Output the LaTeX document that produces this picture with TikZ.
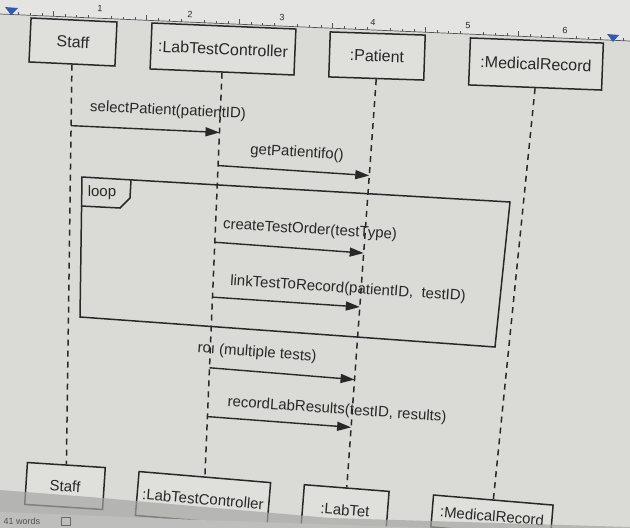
\documentclass[tikz,border=0pt]{standalone}
\usepackage{fontspec}
\setmainfont{Liberation Sans}
\usetikzlibrary{arrows.meta,calc}
\definecolor{bg}{RGB}{218,218,215}
\definecolor{bgtop}{RGB}{228,228,226}
\definecolor{boxfill}{RGB}{223,223,220}
\definecolor{ink}{RGB}{40,40,40}
\definecolor{band}{RGB}{165,165,163}
\definecolor{strip}{RGB}{190,190,188}
\definecolor{rulerblue}{RGB}{50,90,175}
\begin{document}
\begin{tikzpicture}[x=1pt,y=-1pt,
  objbox/.style={draw=ink, line width=1.5pt, fill=boxfill, text=ink, inner sep=0pt},
  topfont/.style={font=\fontsize{16}{18}\selectfont},
  botfont/.style={font=\fontsize{15}{17}\selectfont},
  lifeline/.style={draw=ink, line width=1.5pt, dash pattern=on 6pt off 5pt},
  msg/.style={draw=ink, line width=1.4pt, -{Triangle[length=14pt,width=9pt]}},
  msglabel/.style={font=\fontsize{15}{17}\selectfont, text=ink, inner sep=0pt},
  frame/.style={draw=ink, line width=1.5pt},
  rulernum/.style={font=\fontsize{9}{10}\selectfont, text=ink, inner sep=0pt}]
\useasboundingbox (0,0) rectangle (630,528);
\fill[bg] (0,0) rectangle (630,528);
\fill[bgtop] (0,0) -- (630,0) -- (630,41) -- (0,14) -- cycle;

% ruler
\draw[ink!80, line width=0.7pt] (0,14) -- (630,41);
\foreach \k in {1,...,53} {
  \pgfmathsetmacro\xx{7+\k*11.625}
  \pgfmathsetmacro\yy{14+\xx*0.04286}
  \pgfmathsetmacro\len{ifthenelse(mod(\k,8)==0,0,ifthenelse(mod(\k,4)==0,5,2.5))}
  \draw[ink!80, line width=0.6pt] (\xx,\yy) -- (\xx,\yy-\len);
}
\node[rulernum, rotate=-2.5] (r1) at (100,9) {1};
\node[rulernum, rotate=-2.5] (r2) at (190,14) {2};
\node[rulernum, rotate=-2.5] (r3) at (282,18) {3};
\node[rulernum, rotate=-2.5] (r4) at (373,23) {4};
\node[rulernum, rotate=-2.5] (r5) at (468,26) {5};
\node[rulernum, rotate=-2.5] (r6) at (565,31) {6};
\fill[rulerblue] (5,7) -- (18,8) -- (11,15) -- cycle;
\fill[rulerblue] (607,34) -- (619,35) -- (613,42) -- cycle;

% top objects
\node[objbox, topfont, minimum width=86pt, minimum height=44pt, rotate=-2.7] (staffT) at (73,42) {Staff};
\node[objbox, topfont, minimum width=144pt, minimum height=46pt, rotate=-2.4] (ctrlT) at (223,49) {:LabTestController};
\node[objbox, topfont, minimum width=95pt, minimum height=45pt, rotate=-1.9] (patT) at (377,56) {:Patient};
\node[objbox, topfont, minimum width=133pt, minimum height=47pt, rotate=-2.2] (medT) at (536,64) {:MedicalRecord};

% bottom objects
\node[objbox, botfont, minimum width=78pt, minimum height=42pt, rotate=-3.7] (staffB) at (65,486) {Staff};
\node[objbox, botfont, minimum width=132pt, minimum height=44pt, rotate=-4.8] (ctrlB) at (203,499) {:LabTestController};
\node[objbox, botfont, minimum width=85pt, minimum height=44pt, rotate=-4.5] (labB) at (345,510) {:LabTet};
\node[objbox, botfont, minimum width=120pt, minimum height=32pt, rotate=-4.8] (medB) at (492,516) {:MedicalRecord};

% lifelines
\draw[lifeline] (staffT.south) -- (staffB.north);
\draw[lifeline] (ctrlT.south) -- (ctrlB.north);
\draw[lifeline] (patT.south) -- (labB.north);
\draw[lifeline] (medT.south) -- (medB.north);

% loop frame
\draw[frame] (82,177) -- (510,202) -- (495,347) -- (80,317) -- cycle;
\draw[frame] (131,180) -- (130,198) -- (120,208) -- (81,206);
\node[msglabel] (loopl) at (102,193) {loop};

% messages
\draw[msg] ($(staffT.south)!0.1525!(staffB.north)$) -- ($(ctrlT.south)!0.148!(ctrlB.north)$);
\node[msglabel, rotate=-2.7] (l1) at (168,111) {selectPatient(patientID)};
\draw[msg] ($(ctrlT.south)!0.230!(ctrlB.north)$) -- ($(patT.south)!0.236!(labB.north)$);
\node[msglabel, rotate=-3.5] (l2) at (297,153) {getPatientifo()};
\draw[msg] ($(ctrlT.south)!0.420!(ctrlB.north)$) -- ($(patT.south)!0.426!(labB.north)$);
\node[msglabel, rotate=-3.5] (l4) at (310,230) {createTestOrder(testType)};
\draw[msg] ($(ctrlT.south)!0.556!(ctrlB.north)$) -- ($(patT.south)!0.558!(labB.north)$);
\node[msglabel, rotate=-3.8] (l5) at (348,289) {linkTestToRecord(patientID,\ \ testID)};
\draw[msg] ($(ctrlT.south)!0.731!(ctrlB.north)$) -- ($(patT.south)!0.736!(labB.north)$);
\node[msglabel, rotate=-4.2] (l6) at (257,353) {roı (multiple tests)};
\draw[msg] ($(ctrlT.south)!0.852!(ctrlB.north)$) -- ($(patT.south)!0.853!(labB.north)$);
\node[msglabel, rotate=-4] (l7) at (337,410) {recordLabResults(testID, results)};

% status bar
\fill[band, opacity=0.7] (0,490) -- (90,497) -- (330,518) -- (630,527) -- (630,528) -- (0,528) -- cycle;
\fill[strip] (0,512) -- (200,520) -- (430,528) -- (0,528) -- cycle;
\node[font=\fontsize{9}{10}\selectfont, text=ink!80, inner sep=0pt] (words) at (22,521) {41 words};
\draw[ink!70, line width=0.6pt] (61,517) rectangle (70,525);
\end{tikzpicture}
\end{document}
